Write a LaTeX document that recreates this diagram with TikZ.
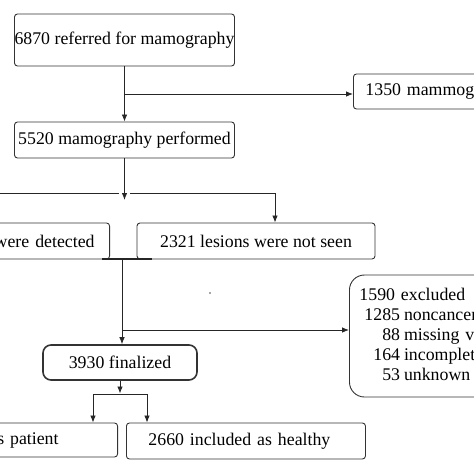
\documentclass[tikz,border=0pt]{standalone}
\usepackage{fontspec}
\setmainfont{Liberation Serif}
\usetikzlibrary{arrows.meta,calc}
\begin{document}
\begin{tikzpicture}[x=1pt,y=-1pt,
  font=\fontsize{17.8}{20}\selectfont,
  box/.style={draw=black!80, line width=0.9pt, rounded corners=3pt, inner sep=0pt},
  conn/.style={draw=black!85, line width=0.8pt},
  arr/.style={conn, -{Latex[length=7pt,width=5.5pt]}},
]
\useasboundingbox (0,0) rectangle (474,474);
\clip (0,0) rectangle (474,474);
% boxes
\node[box, minimum width=220pt, minimum height=52pt] (b1) at (124.5,40) {6870 referred for mamography};
\node[box, anchor=west, minimum height=35pt, text width=223pt, inner xsep=12pt, align=left] (b2) at (353,91.5) {1350 mammography};
\node[box, minimum width=220pt, minimum height=36pt] (b3) at (124.5,140) {5520 mamography performed};
\node[box, anchor=east, minimum height=36pt, text width=250pt, inner xsep=15pt, align=right] (b5) at (110,241) {were detected};
\node[box, minimum width=238pt, minimum height=36pt] (b6) at (256,241) {2321 lesions were not seen};
\node[box, rounded corners=15pt, anchor=west, minimum height=122pt, text width=221pt, inner xsep=15pt, align=left] (exc) at (349,336)
  {\begin{tabular}{@{}r@{\hspace{4pt}}l@{}}
   \multicolumn{2}{@{\hspace{-5pt}}l}{1590 excluded}\\
   1285 & noncancer\\
   88 & missing values\\
   164 & incomplete\\
   53 & unknown
   \end{tabular}};
\node[box, line width=1.6pt, rounded corners=8pt, minimum width=154pt, minimum height=35pt] (fin) at (120,362.5) {3930 finalized};
\node[box, anchor=east, minimum height=34pt, text width=250pt, inner xsep=59pt, align=right] (b7) at (118,440) {as patient};
\node[box, anchor=west, minimum height=36pt, text width=195pt, inner xsep=22pt, align=left] (b8) at (126,441) {2660 included as healthy};
% connectors
\draw[arr] (b1.south) -- (b3.north);
\coordinate (j1) at ($(b1.south)!0.5!(b3.north)$);
\draw[arr] (j1) -- (j1 -| b2.west);
\coordinate (j2t) at (124.5,200);
\draw[arr] (b3.south) -- (j2t);
\coordinate (lft) at (-5,193);
\coordinate (g1) at (119,193);
\coordinate (g2) at (130,193);
\coordinate (k) at (275,193);
\draw[conn] (lft) -- (g1);
\draw[arr] (g2) -- (k) -- (k |- b6.north);
\coordinate (m1) at (102,259);
\coordinate (m2) at (152,259);
\coordinate (m3) at (122,259);
\draw[conn, line width=1.5pt] (m1) -- (m2);
\draw[arr] (m3) -- (m3 |- fin.north);
\coordinate (j4) at (122,330);
\draw[arr] (j4) -- (j4 -| exc.west);
\coordinate (f1) at (121,393.5);
\draw[arr] (fin.south) -- (fin.south |- f1);
\coordinate (s1) at (93,394);
\coordinate (s2) at (147,394);
\draw[conn] (s1) -- (s2);
\draw[arr] (s1) -- (s1 |- b7.north);
\draw[arr] (s2) -- (s2 |- b8.north);
\fill[black!70] (210,293) circle (0.9pt);
\end{tikzpicture}
\end{document}
